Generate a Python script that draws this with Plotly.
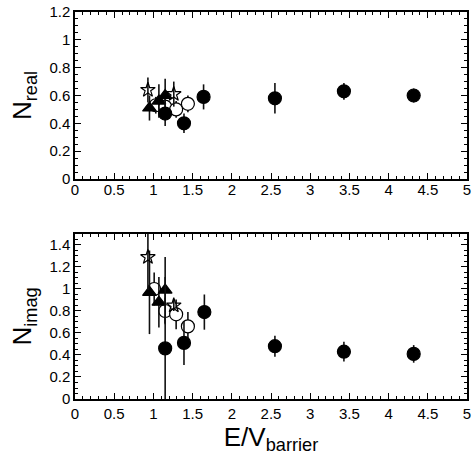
import plotly.graph_objects as go

# ---------------- data: upper panel (N_real) ----------------
fill_E_r = [1.15, 1.39, 1.64, 2.55, 3.43, 4.32]
fill_real = [0.47, 0.40, 0.59, 0.58, 0.63, 0.60]
fill_real_err = [0.09, 0.07, 0.09, 0.11, 0.06, 0.05]

open_E_r = [1.03, 1.15, 1.29, 1.44]
open_real = [0.53, 0.52, 0.50, 0.54]
open_real_err = [0.06, 0.08, 0.06, 0.06]

tri_E_r = [0.95, 1.07, 1.15]
tri_real = [0.51, 0.56, 0.60]
tri_real_err = [0.09, 0.12, 0.12]

star_E_r = [0.93, 1.26]
star_real = [0.64, 0.61]
star_real_err = [0.09, 0.09]

# ---------------- data: lower panel (N_imag) ----------------
fill_E_i = [1.15, 1.39, 1.65, 2.55, 3.43, 4.32]
fill_imag = [0.46, 0.51, 0.79, 0.48, 0.43, 0.41]
fill_imag_err = [0.65, 0.20, 0.16, 0.095, 0.09, 0.08]

open_E_i = [1.01, 1.15, 1.29, 1.44]
open_imag = [1.00, 0.80, 0.77, 0.66]
open_imag_err = [0.15, 0.12, 0.135, 0.13]

tri_E_i = [0.95, 1.07, 1.15]
tri_imag = [0.97, 0.88, 0.99]
tri_imag_err = [0.38, 0.23, 0.30]

star_E_i = [0.93, 1.26]
star_imag = [1.29, 0.85]
star_imag_err = [0.30, 0.05]

x_ticks = [0, 0.5, 1, 1.5, 2, 2.5, 3, 3.5, 4, 4.5, 5]
x_tick_labels = ["0", "0.5", "1", "1.5", "2", "2.5", "3", "3.5", "4", "4.5", "5"]
y_top_ticks = [0, 0.2, 0.4, 0.6, 0.8, 1.0, 1.2]
y_top_labels = ["0", "0.2", "0.4", "0.6", "0.8", "1", "1.2"]
y_bot_ticks = [0, 0.2, 0.4, 0.6, 0.8, 1.0, 1.2, 1.4]
y_bot_labels = ["0", "0.2", "0.4", "0.6", "0.8", "1", "1.2", "1.4"]

FONT = "Liberation Sans, Arial, sans-serif"

fig = go.Figure()


def add(x, y, err, symbol, size, fill, xa, ya):
    fig.add_trace(go.Scatter(
        x=x, y=y, mode="markers", xaxis=xa, yaxis=ya,
        error_y=dict(type="data", array=err, visible=True,
                     color="#111", thickness=1.6, width=0),
        marker=dict(symbol=symbol, size=size, color=fill,
                    line=dict(color="black", width=1.2)),
        showlegend=False, cliponaxis=False,
    ))


for xa, ya, data in [
    ("x", "y", [(open_E_r, open_real, open_real_err),
                (tri_E_r, tri_real, tri_real_err),
                (fill_E_r, fill_real, fill_real_err),
                (star_E_r, star_real, star_real_err)]),
    ("x2", "y2", [(open_E_i, open_imag, open_imag_err),
                  (tri_E_i, tri_imag, tri_imag_err),
                  (fill_E_i, fill_imag, fill_imag_err),
                  (star_E_i, star_imag, star_imag_err)]),
]:
    (oe, ov, oerr), (te, tv, terr), (fe, fv, ferr), (se, sv, serr) = data
    add(oe, ov, oerr, "circle", 13, "white", xa, ya)
    add(te, tv, terr, "triangle-up", 12, "black", xa, ya)
    add(fe, fv, ferr, "circle", 13, "black", xa, ya)
    add(se, sv, serr, "star-open", 11, "black", xa, ya)

common_axis = dict(
    showline=True, linecolor="black", linewidth=1.5, mirror="allticks",
    ticks="inside", ticklen=6, tickwidth=1.2, tickcolor="black",
    showgrid=False, zeroline=False, ticklabeloverflow="allow",
    tickfont=dict(family=FONT, size=15, color="black"),
)

x_common = dict(common_axis, range=[0, 5], tickvals=x_ticks, ticktext=x_tick_labels,
                minor=dict(dtick=0.1, tick0=0, ticks="inside", ticklen=3,
                           tickcolor="black", tickwidth=1))

fig.update_layout(
    width=474, height=455,
    margin=dict(l=75, r=3, t=5, b=56),
    paper_bgcolor="white", plot_bgcolor="white",
    font=dict(family=FONT, color="black"),
    xaxis=dict(x_common, domain=[0, 1], anchor="y", ticklabelstandoff=-4),
    yaxis=dict(common_axis, domain=[0.5685, 1], anchor="x", range=[0, 1.2],
               tickvals=y_top_ticks, ticktext=y_top_labels,
               minor=dict(dtick=0.05, tick0=0, ticks="inside", ticklen=3,
                          tickcolor="black", tickwidth=1),
               title=dict(text="N<sub>real</sub>", standoff=10,
                          font=dict(family=FONT, size=26))),
    xaxis2=dict(x_common, domain=[0, 1], anchor="y2",
                title=dict(text="E/V<sub>barrier</sub>", standoff=5,
                           font=dict(family=FONT, size=26))),
    yaxis2=dict(common_axis, domain=[0, 0.4264], anchor="x2", range=[0, 1.5],
                tickvals=y_bot_ticks, ticktext=y_bot_labels,
                minor=dict(dtick=0.05, tick0=0, ticks="inside", ticklen=3,
                           tickcolor="black", tickwidth=1),
                title=dict(text="N<sub>imag</sub>", standoff=10,
                           font=dict(family=FONT, size=26))),
)

fig.write_html("out.html")
